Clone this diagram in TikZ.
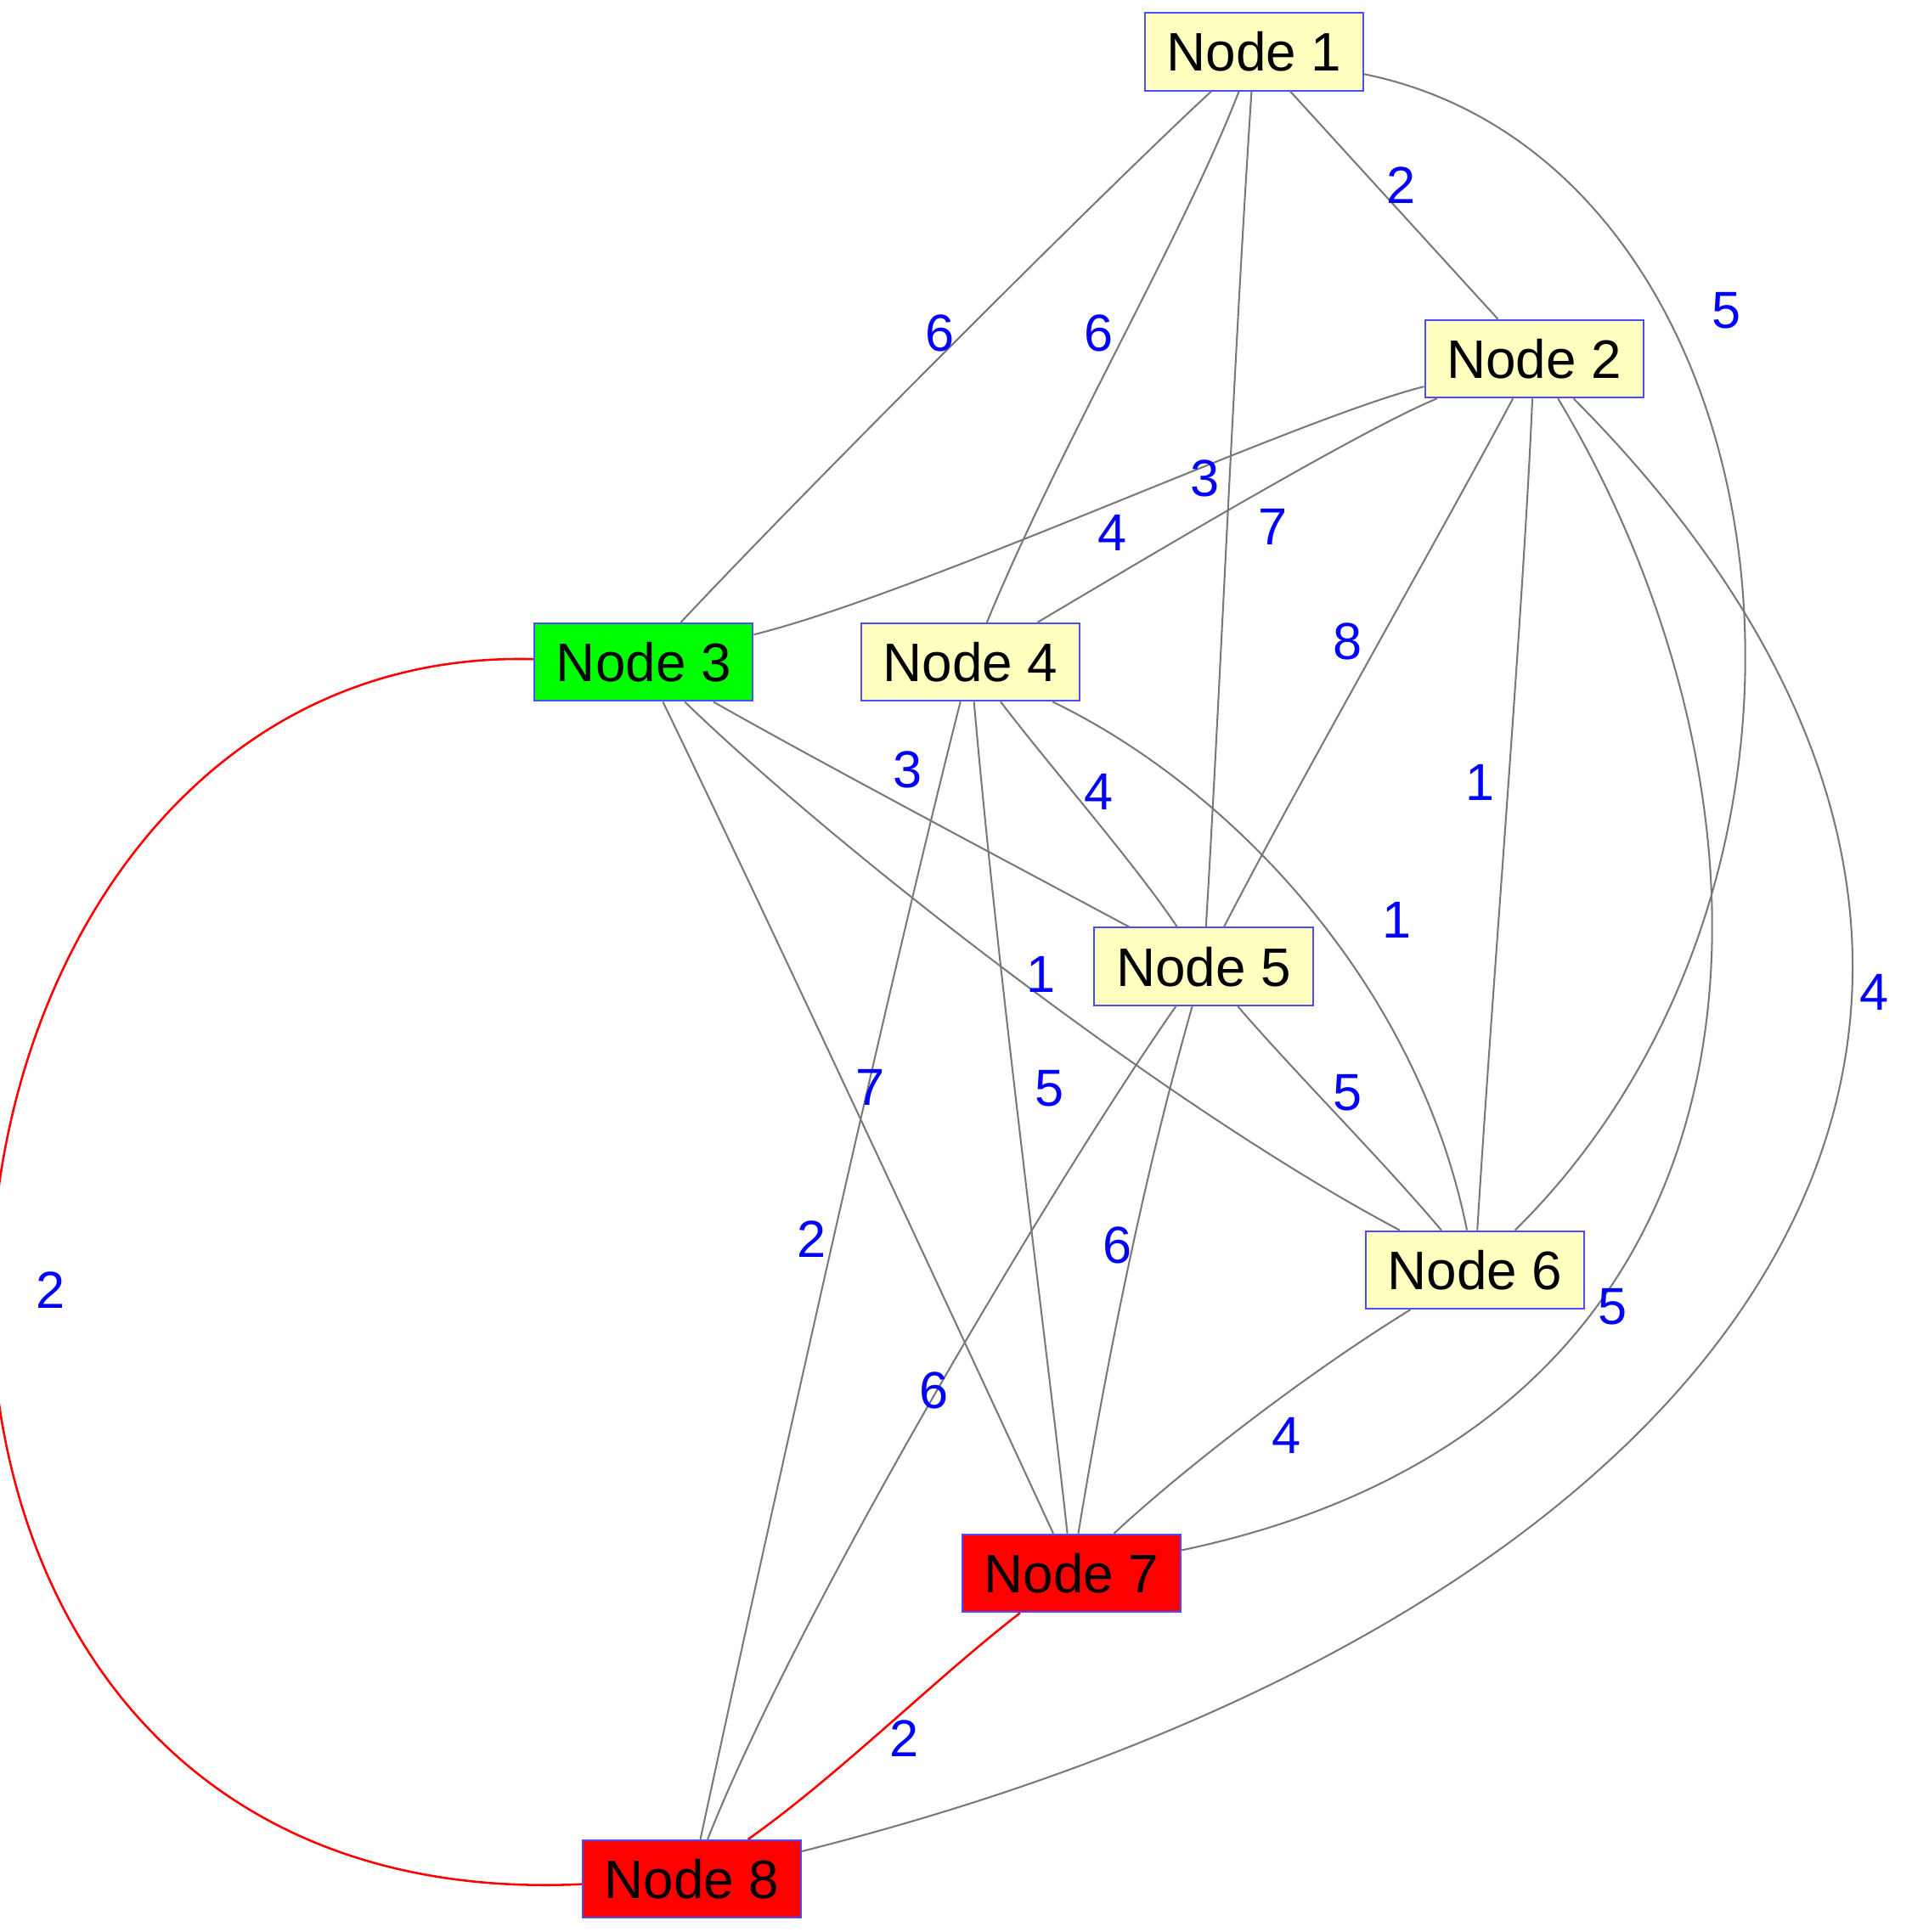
\documentclass[tikz,border=0pt]{standalone}
\usepackage{fontspec}
\setmainfont{Liberation Sans}
\begin{document}
\begin{tikzpicture}[x=0.01cm,y=-0.01cm,
  nd/.style={draw=blue!70,line width=0.4pt,minimum width=1.77cm,minimum height=0.63cm,inner sep=0pt,font=\fontsize{12.5}{14}\selectfont},
  yl/.style={nd,fill={rgb,255:red,255;green,255;blue,192}},
  gr/.style={nd,fill={rgb,255:red,0;green,255;blue,0}},
  rd/.style={nd,fill={rgb,255:red,255;green,0;blue,0}},
  e/.style={draw={rgb,255:red,120;green,120;blue,120},line width=0.4pt},
  er/.style={draw=red,line width=0.5pt},
  lb/.style={text=blue,font=\fontsize{12}{14}\selectfont,inner sep=0pt}]
\useasboundingbox (0,0) rectangle (1550,1567);
\node[yl] (n1) at (1017,42) {Node 1};
\node[yl] (n2) at (1244,291) {Node 2};
\node[gr] (n3) at (522,537) {Node 3};
\node[yl] (n4) at (787,537) {Node 4};
\node[yl] (n5) at (976,784) {Node 5};
\node[yl] (n6) at (1196,1030) {Node 6};
\node[rd] (n7) at (869,1276) {Node 7};
\node[rd] (n8) at (561,1524) {Node 8};
\draw[e] (n1) .. controls (900,150) and (650,400) .. (n3);
\draw[e] (n1) .. controls (960,190) and (860,360) .. (n4);
\draw[e] (n1) .. controls (1000,300) and (990,550) .. (n5);
\draw[e] (n1) -- (n2);
\draw[e] (n1) .. controls (1450,130) and (1530,700) .. (n6);
\draw[e] (n2) .. controls (1050,340) and (750,480) .. (n3);
\draw[e] (n2) .. controls (1100,350) and (900,470) .. (n4);
\draw[e] (n2) .. controls (1170,430) and (1050,640) .. (n5);
\draw[e] (n2) .. controls (1235,500) and (1210,800) .. (n6);
\draw[e] (n2) .. controls (1460,650) and (1470,1150) .. (n7);
\draw[e] (n2) .. controls (1750,800) and (1450,1300) .. (n8);
\draw[e] (n3) .. controls (650,610) and (800,690) .. (n5);
\draw[e] (n3) .. controls (680,690) and (950,900) .. (n6);
\draw[e] (n3) .. controls (620,740) and (760,1040) .. (n7);
\draw[er] (n3) .. controls (-120,520) and (-200,1560) .. (n8);
\draw[e] (n4) .. controls (850,620) and (920,700) .. (n5);
\draw[e] (n4) .. controls (1000,640) and (1150,800) .. (n6);
\draw[e] (n4) .. controls (810,800) and (850,1100) .. (n7);
\draw[e] (n4) .. controls (720,800) and (620,1250) .. (n8);
\draw[e] (n5) .. controls (1050,870) and (1120,940) .. (n6);
\draw[e] (n5) .. controls (920,980) and (890,1150) .. (n7);
\draw[e] (n5) .. controls (860,950) and (650,1300) .. (n8);
\draw[e] (n6) .. controls (1050,1120) and (950,1200) .. (n7);
\draw[er] (n7) .. controls (760,1360) and (680,1440) .. (n8);
\node[lb] at (762,270) {6};
\node[lb] at (891,270) {6};
\node[lb] at (1136,150) {2};
\node[lb] at (1400,252) {5};
\node[lb] at (977,388) {3};
\node[lb] at (902,432) {4};
\node[lb] at (1032,427) {7};
\node[lb] at (1093,520) {8};
\node[lb] at (1200,635) {1};
\node[lb] at (1308,1060) {5};
\node[lb] at (1520,805) {4};
\node[lb] at (736,624) {3};
\node[lb] at (844,790) {1};
\node[lb] at (706,882) {7};
\node[lb] at (41,1046) {2};
\node[lb] at (891,642) {4};
\node[lb] at (1133,746) {1};
\node[lb] at (851,883) {5};
\node[lb] at (658,1005) {2};
\node[lb] at (1093,886) {5};
\node[lb] at (906,1010) {6};
\node[lb] at (757,1128) {6};
\node[lb] at (1043,1164) {4};
\node[lb] at (733,1410) {2};
\end{tikzpicture}
\end{document}
